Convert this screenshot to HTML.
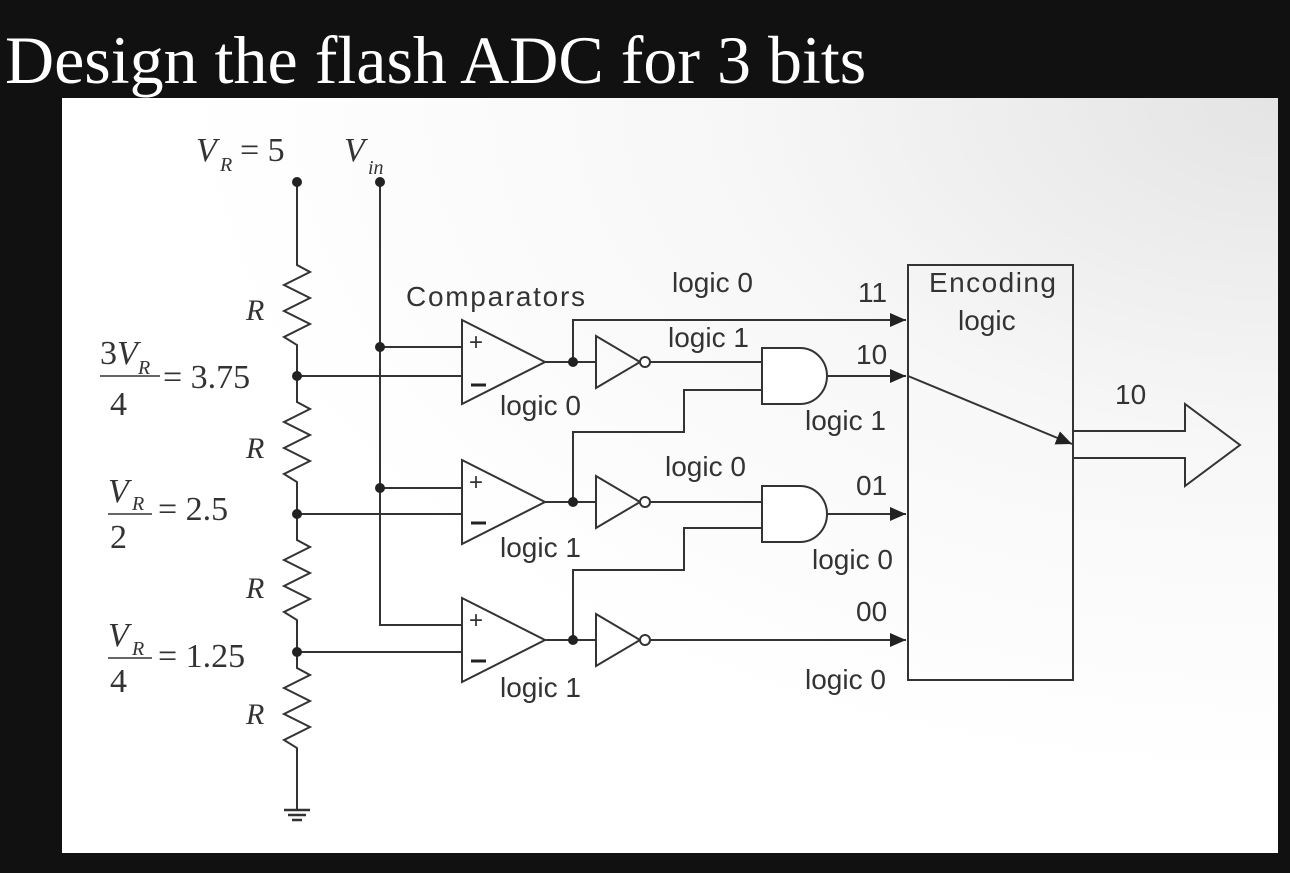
<!DOCTYPE html>
<html><head><meta charset="utf-8"><style>
html,body{margin:0;padding:0;background:#111;width:1290px;height:873px;overflow:hidden}
</style></head><body>
<svg width="1290" height="873" viewBox="0 0 1290 873" xmlns="http://www.w3.org/2000/svg">
<defs>
<radialGradient id="bg" cx="1" cy="0" r="0.9">
<stop offset="0" stop-color="#e4e4e4"/><stop offset="0.5" stop-color="#f7f7f7"/><stop offset="1" stop-color="#ffffff"/>
</radialGradient>
<marker id="ar" markerWidth="16" markerHeight="14" refX="16" refY="7" orient="auto" markerUnits="userSpaceOnUse"><path d="M0,0 L16,7 L0,14z" fill="#222"/></marker>
</defs>
<rect x="0" y="0" width="1290" height="873" fill="#111"/>
<text x="5" y="83" font-family="Liberation Serif, serif" font-size="68" fill="#fff">Design the flash ADC for 3 bits</text>
<rect x="62" y="98" width="1216" height="755" fill="url(#bg)"/>
<g stroke="#333" stroke-width="2" fill="none">
<path d="M297,182 V265 L310,272 L284,285 L310,298 L284,311 L310,324 L284,337 L297,345 V376 V402 L310,409 L284,422 L310,435 L284,448 L310,461 L284,474 L297,482 V514 V540 L310,547 L284,560 L310,573 L284,586 L310,599 L284,612 L297,620 V652 V668 L310,675 L284,688 L310,701 L284,714 L310,727 L284,740 L297,748 V810"/>
<path d="M284,810 H310 M288,815 H306 M292,820 H302" stroke-width="2.5"/>
<path d="M380,182 V625 H462 M380,347 H462 M380,488 H462"/>
<path d="M297,376 H462 M297,514 H462 M297,652 H462"/>
<path d="M462,320 L545,362 L462,404 Z M462,460 L545,502 L462,544 Z M462,598 L545,640 L462,682 Z"/>
<path d="M545,362 H596 M545,502 H596 M545,640 H596"/>
<path d="M596,336 L640,362 L596,388 Z M596,476 L640,502 L596,528 Z M596,614 L640,640 L596,666 Z"/>
<circle cx="645" cy="362" r="5" fill="#fff"/><circle cx="645" cy="502" r="5" fill="#fff"/><circle cx="645" cy="640" r="5" fill="#fff"/>
<path d="M573,362 V320 H906" marker-end="url(#ar)"/>
<path d="M650,362 H762 M573,502 V432 H684 V390 H762"/>
<path d="M650,502 H762 M573,640 V570 H684 V528 H762"/>
<path d="M650,640 H906" marker-end="url(#ar)"/>
<path d="M762,348 H800 A27,28 0 0 1 800,404 H762 Z M762,486 H800 A27,28 0 0 1 800,542 H762 Z" fill="#fff"/>
<path d="M827,376 H906" marker-end="url(#ar)"/>
<path d="M827,514 H906" marker-end="url(#ar)"/>
<path d="M908,376 L1072,444" marker-end="url(#ar)"/>
<rect x="908" y="265" width="165" height="415" fill="none"/>
<path d="M1073,431 H1185 V404 L1240,445 L1185,486 V458 H1073"/>
</g>
<g fill="#222">
<circle cx="297" cy="182" r="5"/><circle cx="380" cy="182" r="5"/>
<circle cx="297" cy="376" r="5"/><circle cx="297" cy="514" r="5"/><circle cx="297" cy="652" r="5"/>
<circle cx="380" cy="347" r="5"/><circle cx="380" cy="488" r="5"/>
<circle cx="573" cy="362" r="5"/><circle cx="573" cy="502" r="5"/><circle cx="573" cy="640" r="5"/>
</g>
<g font-family="Liberation Sans, sans-serif" font-size="24" fill="#333">
<text x="469" y="350">+</text><text x="469" y="490">+</text><text x="469" y="628">+</text>
</g>
<g stroke="#222" stroke-width="3"><path d="M471,385 H486 M471,523 H486 M471,661 H486"/></g>
<g font-family="Liberation Sans, sans-serif" font-size="28" fill="#333">
<text x="406" y="306" textLength="179">Comparators</text>
<text x="672" y="292">logic 0</text>
<text x="858" y="302">11</text>
<text x="668" y="347">logic 1</text>
<text x="856" y="364">10</text>
<text x="500" y="415">logic 0</text>
<text x="805" y="430">logic 1</text>
<text x="665" y="476">logic 0</text>
<text x="856" y="495">01</text>
<text x="500" y="557">logic 1</text>
<text x="812" y="569">logic 0</text>
<text x="856" y="621">00</text>
<text x="500" y="697">logic 1</text>
<text x="805" y="689">logic 0</text>
<text x="929" y="292" textLength="127">Encoding</text>
<text x="958" y="330">logic</text>
<text x="1115" y="404">10</text>
</g>
<g font-family="Liberation Serif, serif" font-size="34" fill="#333">
<text x="196" y="161" font-style="italic">V</text><text x="220" y="171" font-size="20" font-style="italic">R</text><text x="240" y="161">= 5</text>
<text x="344" y="161" font-style="italic">V</text><text x="368" y="174" font-size="20" font-style="italic">in</text>
<text x="246" y="320" font-style="italic" font-size="30">R</text>
<text x="246" y="458" font-style="italic" font-size="30">R</text>
<text x="246" y="598" font-style="italic" font-size="30">R</text>
<text x="246" y="724" font-style="italic" font-size="30">R</text>
<text x="100" y="364">3<tspan font-style="italic">V</tspan></text><text x="138" y="374" font-size="20" font-style="italic">R</text>
<text x="110" y="415">4</text><text x="163" y="388">= 3.75</text>
<text x="108" y="502" font-style="italic">V</text><text x="132" y="510" font-size="20" font-style="italic">R</text>
<text x="110" y="548">2</text><text x="158" y="520">= 2.5</text>
<text x="108" y="646" font-style="italic">V</text><text x="132" y="655" font-size="20" font-style="italic">R</text>
<text x="110" y="692">4</text><text x="158" y="667">= 1.25</text>
</g>
<g stroke="#333" stroke-width="1.5"><path d="M100,376 H160 M108,514 H152 M108,658 H152"/></g>
</svg>
</body></html>
